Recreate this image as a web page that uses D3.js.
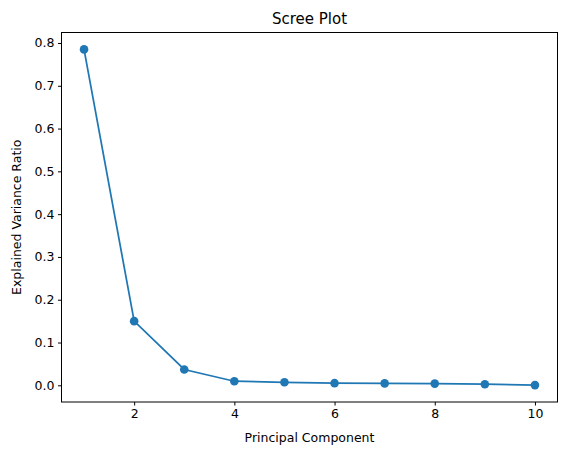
<!DOCTYPE html>
<html><head><meta charset="utf-8">
<script src="https://cdn.jsdelivr.net/npm/d3@7"></script>
<style>body{margin:0;background:#fff}text{font-family:"DejaVu Sans",sans-serif}</style>
</head><body><svg id="c" width="567" height="455"></svg>
<script>
var components = [1,2,3,4,5,6,7,8,9,10];
var ratios = [0.785,0.150,0.037,0.0095,0.007,0.005,0.0045,0.004,0.0025,0.0005];
var xTicks = [2,4,6,8,10];
var yTicks = [0,0.1,0.2,0.3,0.4,0.5,0.6,0.7,0.8];

var svg = d3.select('#c');
var L = 61.5, R = 557.5, T = 32.5, B = 402;
var x = d3.scaleLinear().domain([0.55,10.45]).range([L,R]);
var y = d3.scaleLinear().domain([-0.039,0.8245]).range([B,T]);

var g = svg.append('g');
g.append('g').attr('transform','translate(0,'+B+')')
  .call(d3.axisBottom(x).tickValues(xTicks).tickFormat(d3.format('d')).tickSizeOuter(0).tickSize(3.5).tickPadding(3.5));
g.append('g').attr('transform','translate('+L+',0)')
  .call(d3.axisLeft(y).tickValues(yTicks).tickFormat(d3.format('.1f')).tickSizeOuter(0).tickSize(3.5).tickPadding(3.5));
g.selectAll('.domain').remove();
g.selectAll('.tick text').style('font-size','12.5px').attr('fill','#000');
g.selectAll('.tick line').attr('stroke','#000');

var line = d3.line().x(function(d,i){return x(components[i]);}).y(function(d){return y(d);});
svg.append('path').datum(ratios).attr('d',line).attr('fill','none').attr('stroke','#1f77b4').attr('stroke-width',1.75);
svg.selectAll('circle.p').data(ratios).enter().append('circle')
  .attr('cx',function(d,i){return x(components[i]);}).attr('cy',function(d){return y(d);})
  .attr('r',4.3).attr('fill','#1f77b4');

svg.append('rect').attr('x',L).attr('y',T).attr('width',R-L).attr('height',B-T)
  .attr('fill','none').attr('stroke','#000').attr('stroke-width',1);

svg.append('text').attr('x',(L+R)/2).attr('y',24).attr('text-anchor','middle').style('font-size','15px').text('Scree Plot');
svg.append('text').attr('x',(L+R)/2).attr('y',442).attr('text-anchor','middle').style('font-size','12.5px').text('Principal Component');
svg.append('text').attr('transform','translate(21,'+((T+B)/2)+') rotate(-90)').attr('text-anchor','middle').style('font-size','12.5px').text('Explained Variance Ratio');
</script></body></html>
